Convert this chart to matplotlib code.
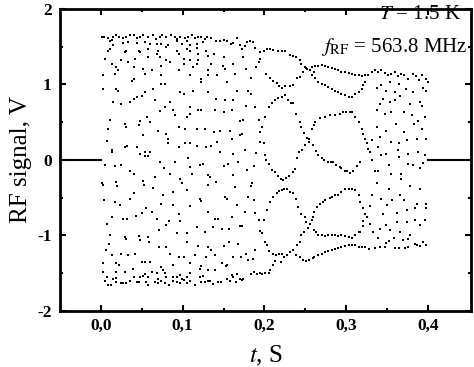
import matplotlib
matplotlib.use("Agg")
import matplotlib.pyplot as plt

plt.rcParams['font.family'] = ['Liberation Serif', 'DejaVu Serif']
plt.rcParams['mathtext.fontset'] = 'stix'

# (t [s], RF signal [V])
# t = 0 ... 0.13, upper half
early_upper = [
    (0.001, 1.63), (0.004, 1.63), (0.009, 1.62), (0.013, 1.59), (0.015, 1.63), (0.019, 1.65),
    (0.022, 1.63), (0.027, 1.62), (0.031, 1.63), (0.035, 1.66), (0.040, 1.65), (0.044, 1.62),
    (0.048, 1.63), (0.052, 1.65), (0.058, 1.63), (0.064, 1.65), (0.067, 1.60), (0.072, 1.63),
    (0.075, 1.65), (0.080, 1.63), (0.086, 1.65), (0.091, 1.63), (0.093, 1.60), (0.097, 1.63),
    (0.103, 1.62), (0.107, 1.63), (0.111, 1.66), (0.115, 1.62), (0.119, 1.63), (0.123, 1.63),
    (0.127, 1.60), (0.130, 1.63),
    (0.011, 1.58), (0.015, 1.52), (0.027, 1.55), (0.033, 1.56), (0.044, 1.55), (0.054, 1.56),
    (0.060, 1.54), (0.068, 1.53), (0.074, 1.54), (0.082, 1.52), (0.093, 1.57), (0.099, 1.54),
    (0.105, 1.57), (0.109, 1.52), (0.117, 1.54), (0.125, 1.56),
    (0.009, 1.44), (0.011, 1.47), (0.029, 1.43), (0.031, 1.45), (0.046, 1.45), (0.048, 1.43),
    (0.058, 1.47), (0.068, 1.41), (0.070, 1.45), (0.080, 1.50), (0.093, 1.44), (0.095, 1.41),
    (0.105, 1.47), (0.109, 1.45), (0.117, 1.48), (0.119, 1.41), (0.129, 1.45),
    (0.005, 1.34), (0.025, 1.32), (0.033, 1.30), (0.042, 1.34), (0.058, 1.36), (0.072, 1.36),
    (0.080, 1.32), (0.084, 1.30), (0.101, 1.34), (0.109, 1.33), (0.119, 1.32), (0.131, 1.38),
    (0.013, 1.27), (0.019, 1.23), (0.021, 1.19), (0.040, 1.23), (0.052, 1.21), (0.062, 1.19),
    (0.074, 1.25), (0.095, 1.19), (0.101, 1.27), (0.113, 1.23), (0.117, 1.27), (0.131, 1.19),
    (0.003, 1.12), (0.017, 1.14), (0.038, 1.05), (0.040, 1.07), (0.054, 1.14), (0.074, 1.12),
    (0.109, 1.13), (0.123, 1.07), (0.123, 1.03), (0.131, 1.12),
    (0.003, 0.94), (0.019, 0.94), (0.021, 0.92), (0.050, 0.85), (0.054, 0.90), (0.064, 0.94),
    (0.074, 1.01), (0.078, 1.01), (0.097, 0.90), (0.101, 0.88), (0.113, 0.92), (0.131, 0.90),
    (0.015, 0.77), (0.025, 0.74), (0.035, 0.77), (0.040, 0.81), (0.044, 0.83), (0.066, 0.79),
    (0.078, 0.70), (0.084, 0.77), (0.072, 0.65), (0.088, 0.66), (0.109, 0.70), (0.119, 0.66),
    (0.123, 0.66),
    (0.011, 0.53), (0.029, 0.48), (0.031, 0.44), (0.048, 0.52), (0.046, 0.46), (0.056, 0.57),
    (0.060, 0.50), (0.091, 0.59), (0.105, 0.57), (0.109, 0.61), (0.009, 0.41),
    (0.070, 0.39), (0.080, 0.35), (0.082, 0.28), (0.095, 0.44), (0.103, 0.41), (0.117, 0.41),
    (0.127, 0.41), (0.052, 0.33),
    (0.007, 0.25), (0.013, 0.13), (0.029, 0.17), (0.032, 0.18), (0.044, 0.17), (0.048, 0.08),
    (0.054, 0.11), (0.060, 0.11), (0.082, 0.22), (0.095, 0.17), (0.103, 0.22), (0.109, 0.22),
    (0.117, 0.18), (0.129, 0.17), (0.058, 0.05), (0.107, 0.03),
]

# t = 0 ... 0.13, lower half
early_lower = [
    (0.013, 0.11), (0.048, 0.08), (0.054, 0.05), (0.060, 0.11), (0.107, 0.02),
    (0.005, -0.06), (0.017, -0.08), (0.024, -0.06), (0.035, -0.14), (0.040, -0.19), (0.072, -0.03),
    (0.077, -0.11), (0.091, -0.03), (0.109, -0.09), (0.121, -0.07), (0.125, -0.05),
    (0.001, -0.31), (0.002, -0.33), (0.019, -0.29), (0.020, -0.35), (0.052, -0.28), (0.053, -0.33),
    (0.064, -0.37), (0.066, -0.22), (0.085, -0.19), (0.097, -0.25), (0.099, -0.31), (0.111, -0.19),
    (0.131, -0.20),
    (0.040, -0.44), (0.036, -0.51), (0.076, -0.47), (0.088, -0.42), (0.105, -0.40), (0.131, -0.33),
    (0.004, -0.53), (0.017, -0.56), (0.023, -0.60), (0.074, -0.58), (0.088, -0.60), (0.109, -0.61),
    (0.121, -0.51), (0.123, -0.54), (0.131, -0.69), (0.062, -0.69), (0.055, -0.64), (0.050, -0.70),
    (0.043, -0.74), (0.095, -0.72),
    (0.013, -0.75), (0.007, -0.85), (0.027, -0.78), (0.032, -0.78), (0.068, -0.78), (0.083, -0.81),
    (0.080, -0.86), (0.117, -0.89), (0.127, -0.95), (0.097, -0.81), (0.105, -0.97),
    (0.011, -0.99), (0.029, -1.02), (0.031, -1.04), (0.046, -1.01), (0.048, -1.06), (0.058, -1.02),
    (0.059, -1.08), (0.071, -0.93), (0.093, -0.97), (0.105, -1.08), (0.119, -1.14),
    (0.006, -1.19), (0.014, -1.26), (0.025, -1.24), (0.033, -1.26), (0.042, -1.25), (0.010, -1.11),
    (0.071, -1.15), (0.084, -1.25), (0.080, -1.15), (0.096, -1.29), (0.101, -1.28), (0.115, -1.26),
    (0.129, -1.29), (0.131, -1.15),
    (0.002, -1.36), (0.018, -1.37), (0.022, -1.39), (0.050, -1.35), (0.054, -1.35), (0.060, -1.35),
    (0.039, -1.45), (0.074, -1.42), (0.076, -1.46), (0.088, -1.39), (0.109, -1.36), (0.121, -1.44),
    (0.123, -1.41),
    (0.003, -1.49), (0.019, -1.49), (0.029, -1.48), (0.052, -1.54), (0.054, -1.51), (0.063, -1.49),
    (0.068, -1.50), (0.078, -1.50), (0.097, -1.52), (0.109, -1.50), (0.131, -1.46),
    (0.007, -1.55), (0.015, -1.57), (0.018, -1.56), (0.040, -1.55), (0.048, -1.55), (0.058, -1.55),
    (0.070, -1.57), (0.080, -1.55), (0.088, -1.55), (0.093, -1.55), (0.099, -1.57), (0.105, -1.55),
    (0.121, -1.55), (0.125, -1.54),
    (0.005, -1.60), (0.009, -1.65), (0.012, -1.65), (0.019, -1.61), (0.024, -1.63), (0.027, -1.63),
    (0.031, -1.63), (0.035, -1.60), (0.044, -1.61), (0.047, -1.61), (0.055, -1.61), (0.058, -1.65),
    (0.066, -1.61), (0.070, -1.63), (0.074, -1.60), (0.078, -1.63), (0.083, -1.65), (0.088, -1.60),
    (0.093, -1.61), (0.097, -1.63), (0.101, -1.59), (0.105, -1.63), (0.109, -1.60), (0.115, -1.66),
    (0.123, -1.61), (0.127, -1.61), (0.131, -1.60),
]

# t = 0.13 ... 0.2
middle = [
    (0.135, 1.62), (0.141, 1.58), (0.146, 1.57), (0.151, 1.59), (0.154, 1.58), (0.159, 1.53),
    (0.162, 1.55), (0.166, 1.62), (0.170, 1.52), (0.138, 1.41), (0.150, 1.36), (0.149, 1.25),
    (0.135, 1.27), (0.162, 1.27), (0.152, 1.21), (0.142, 1.12), (0.164, 1.14), (0.154, 1.03),
    (0.166, 0.92), (0.141, 0.81), (0.152, 0.79), (0.162, 0.79), (0.140, 0.66), (0.150, 0.63),
    (0.160, 0.66), (0.170, 0.52), (0.138, 0.37), (0.146, 0.39), (0.158, 0.39), (0.170, 0.33),
    (0.142, 0.24), (0.160, 0.28), (0.135, 0.19), (0.146, 0.11), (0.162, 0.08),
    (0.133, -0.22), (0.141, -0.29), (0.150, -0.08), (0.156, -0.05), (0.162, -0.20), (0.168, -0.03),
    (0.164, -0.36), (0.152, -0.49), (0.154, -0.52), (0.166, -0.59), (0.140, -0.78), (0.143, -0.78),
    (0.160, -0.75), (0.170, -0.87), (0.137, -0.89), (0.148, -0.92), (0.157, -0.91), (0.150, -1.14),
    (0.157, -1.08), (0.168, -1.11), (0.135, -1.19), (0.140, -1.26), (0.148, -1.37), (0.154, -1.39),
    (0.162, -1.28), (0.171, -1.28), (0.140, -1.46), (0.153, -1.41), (0.160, -1.52), (0.166, -1.51),
    (0.137, -1.64), (0.147, -1.61), (0.154, -1.57), (0.162, -1.55), (0.134, -1.60), (0.143, -1.62),
    (0.158, -1.60), (0.165, -1.62), (0.170, -1.58),
    (0.172, 1.47), (0.176, 1.51), (0.179, 1.56), (0.182, 1.57), (0.186, 1.56), (0.188, 1.48),
    (0.174, 1.36), (0.177, 1.21), (0.184, 1.08), (0.180, 0.92), (0.184, 0.88), (0.178, 0.72),
    (0.188, 0.70), (0.193, 0.53), (0.174, 0.53), (0.172, 0.35), (0.197, 0.44), (0.195, 0.37),
    (0.195, 0.24), (0.199, 0.22), (0.176, 0.13), (0.190, 0.09), (0.201, 0.06), (0.194, 1.34),
    (0.193, 1.30), (0.190, 1.23),
    (0.187, -0.08), (0.179, -0.13), (0.185, -0.31), (0.183, -0.34), (0.180, -0.49), (0.187, -0.53),
    (0.176, -0.69), (0.188, -0.70), (0.193, -0.80), (0.199, -0.80), (0.172, -0.88), (0.195, -0.94),
    (0.197, -0.97), (0.201, -1.09), (0.203, -1.13), (0.178, -1.24), (0.188, -1.19), (0.180, -1.32),
    (0.186, -1.31), (0.187, -1.48), (0.184, -1.51), (0.174, -1.57), (0.172, -1.59), (0.191, -1.51),
    (0.194, -1.50), (0.197, -1.51), (0.201, -1.50), (0.205, -1.50), (0.207, -1.46), (0.210, -1.39),
    (0.213, -1.34), (0.220, -1.35),
]

# t = 0.2 ... 0.33, the branches
branches = [
    (0.195, 1.43), (0.199, 1.45), (0.203, 1.47), (0.207, 1.47), (0.211, 1.46), (0.216, 1.45),
    (0.221, 1.45), (0.225, 1.45), (0.231, 1.39), (0.235, 1.38), (0.239, 1.36), (0.243, 1.33),
    (0.245, 1.27), (0.250, 1.23), (0.252, 1.21), (0.256, 1.19), (0.260, 1.16),
    (0.202, 1.14), (0.207, 1.08), (0.211, 1.04), (0.215, 1.02), (0.218, 0.98), (0.222, 0.95),
    (0.225, 0.98), (0.231, 0.98), (0.235, 0.99), (0.240, 1.08), (0.243, 1.10), (0.247, 1.16),
    (0.251, 1.22),
    (0.201, 0.57), (0.205, 0.70), (0.209, 0.76), (0.213, 0.80), (0.217, 0.82), (0.221, 0.83),
    (0.225, 0.86), (0.229, 0.80), (0.233, 0.76), (0.235, 0.75), (0.239, 0.61), (0.243, 0.50),
    (0.245, 0.44), (0.248, 0.36), (0.252, 0.29), (0.255, 0.28), (0.259, 0.20), (0.263, 0.12),
    (0.266, 0.07),
    (0.242, 0.11), (0.246, 0.13), (0.250, 0.20), (0.254, 0.24), (0.258, 0.41), (0.260, 0.46),
    (0.202, 0.00), (0.206, -0.05), (0.209, -0.13), (0.213, -0.16), (0.217, -0.21), (0.220, -0.25),
    (0.223, -0.27), (0.226, -0.24), (0.230, -0.21), (0.235, -0.16), (0.237, -0.12), (0.240, 0.03),
    (0.203, -0.66), (0.207, -0.55), (0.211, -0.49), (0.215, -0.44), (0.218, -0.41), (0.221, -0.40),
    (0.224, -0.38), (0.228, -0.38), (0.231, -0.43), (0.235, -0.44), (0.238, -0.52), (0.241, -0.62),
    (0.245, -0.71), (0.249, -0.75), (0.251, -0.82), (0.256, -0.85), (0.258, -0.80), (0.253, -0.90),
    (0.248, -0.95), (0.245, -1.00), (0.243, -1.08), (0.240, -1.13),
    (0.206, -1.21), (0.210, -1.24), (0.214, -1.26), (0.218, -1.24), (0.221, -1.25), (0.224, -1.29),
    (0.228, -1.26), (0.231, -1.22), (0.235, -1.19), (0.239, -1.26), (0.243, -1.29), (0.247, -1.32),
    (0.251, -1.34), (0.255, -1.33), (0.259, -1.30),
    (0.258, 1.23), (0.262, 1.25), (0.266, 1.24), (0.270, 1.26), (0.274, 1.25), (0.278, 1.23),
    (0.282, 1.22), (0.286, 1.20), (0.290, 1.19), (0.294, 1.17), (0.298, 1.16), (0.303, 1.15),
    (0.307, 1.14), (0.311, 1.13), (0.315, 1.12), (0.319, 1.11), (0.323, 1.12), (0.327, 1.13),
    (0.331, 1.16),
    (0.258, 1.12), (0.262, 1.08), (0.266, 1.03), (0.270, 1.01), (0.274, 0.99), (0.278, 0.97),
    (0.282, 0.94), (0.286, 0.92), (0.290, 0.90), (0.294, 0.88), (0.298, 0.86), (0.303, 0.84),
    (0.307, 0.84), (0.311, 0.88), (0.315, 0.90), (0.319, 0.94), (0.321, 0.99), (0.323, 1.03),
    (0.262, 0.50), (0.268, 0.55), (0.274, 0.57), (0.280, 0.59), (0.286, 0.60), (0.292, 0.61),
    (0.296, 0.63), (0.300, 0.64), (0.304, 0.64), (0.307, 0.63), (0.311, 0.57), (0.315, 0.50),
    (0.319, 0.41), (0.321, 0.35), (0.323, 0.28), (0.325, 0.22), (0.326, 0.15),
    (0.270, 0.03), (0.273, 0.00), (0.278, -0.03), (0.281, -0.03), (0.284, -0.03), (0.288, -0.06),
    (0.292, -0.09), (0.294, -0.11), (0.298, -0.14), (0.301, -0.14), (0.305, -0.17), (0.308, -0.14),
    (0.313, -0.08), (0.317, -0.03),
    (0.259, -0.75), (0.261, -0.69), (0.264, -0.62), (0.268, -0.58), (0.271, -0.55), (0.274, -0.53),
    (0.280, -0.50), (0.282, -0.49), (0.286, -0.47), (0.290, -0.46), (0.294, -0.42), (0.298, -0.38),
    (0.303, -0.38), (0.307, -0.38), (0.311, -0.40), (0.315, -0.47), (0.317, -0.55), (0.320, -0.64),
    (0.323, -0.72), (0.325, -0.75),
    (0.260, -0.93), (0.263, -0.96), (0.266, -0.99), (0.270, -1.00), (0.274, -1.01), (0.278, -0.99),
    (0.282, -1.00), (0.286, -1.00), (0.290, -1.01), (0.294, -1.00), (0.298, -1.01), (0.303, -1.02),
    (0.307, -1.03), (0.311, -1.00), (0.315, -0.96), (0.317, -0.96), (0.320, -0.88), (0.321, -0.81),
    (0.260, -1.28), (0.265, -1.26), (0.270, -1.24), (0.274, -1.22), (0.278, -1.21), (0.282, -1.19),
    (0.286, -1.18), (0.290, -1.16), (0.294, -1.15), (0.298, -1.14), (0.303, -1.12), (0.307, -1.12),
    (0.311, -1.13), (0.315, -1.15), (0.319, -1.15), (0.323, -1.15), (0.328, -1.18),
    (0.331, 0.00), (0.329, -0.61), (0.329, -0.85), (0.333, -0.95),
]

# t = 0.33 ... 0.4
late = [
    (0.335, 1.19), (0.339, 1.16), (0.343, 1.19), (0.347, 1.15), (0.351, 1.12), (0.355, 1.14),
    (0.359, 1.16), (0.363, 1.11), (0.367, 1.14), (0.371, 1.12), (0.376, 1.07), (0.381, 1.14),
    (0.385, 1.11), (0.389, 1.06), (0.393, 1.12), (0.397, 1.07), (0.400, 1.03),
    (0.337, 0.96), (0.343, 0.99), (0.349, 0.92), (0.353, 1.03), (0.359, 0.90), (0.365, 1.01),
    (0.373, 0.94), (0.381, 0.90), (0.394, 0.96), (0.398, 0.92),
    (0.341, 0.74), (0.345, 0.81), (0.353, 0.77), (0.359, 0.79), (0.366, 0.85), (0.378, 0.74),
    (0.390, 0.77), (0.392, 0.71),
    (0.337, 0.66), (0.347, 0.61), (0.355, 0.63), (0.370, 0.63), (0.380, 0.59), (0.388, 0.52),
    (0.396, 0.57),
    (0.337, 0.44), (0.349, 0.39), (0.361, 0.48), (0.371, 0.37), (0.383, 0.48), (0.392, 0.41),
    (0.331, 0.26), (0.341, 0.30), (0.355, 0.24), (0.365, 0.22), (0.374, 0.26), (0.387, 0.28),
    (0.398, 0.28),
    (0.329, 0.11), (0.339, 0.17), (0.349, 0.08), (0.363, 0.13), (0.375, 0.08), (0.388, 0.11),
    (0.396, 0.06),
    (0.343, 0.06), (0.364, 0.04), (0.352, -0.07), (0.375, -0.05), (0.382, -0.06), (0.390, -0.11),
    (0.394, -0.04),
    (0.335, -0.15), (0.339, -0.14), (0.355, -0.18), (0.367, -0.18), (0.367, -0.25), (0.337, -0.31),
    (0.352, -0.39), (0.378, -0.35), (0.390, -0.38),
    (0.331, -0.47), (0.343, -0.51), (0.366, -0.47), (0.356, -0.53), (0.370, -0.53), (0.350, -0.59),
    (0.386, -0.58), (0.398, -0.58), (0.362, -0.70), (0.374, -0.66), (0.384, -0.63), (0.397, -0.63),
    (0.345, -0.71),
    (0.341, -0.91), (0.354, -0.93), (0.366, -0.95), (0.378, -1.00), (0.384, -0.80), (0.390, -0.86),
    (0.396, -0.80), (0.349, -0.86), (0.362, -0.82), (0.374, -0.82),
    (0.339, -1.03), (0.348, -1.10), (0.352, -1.07), (0.358, -1.03), (0.369, -1.06), (0.376, -1.04),
    (0.384, -1.11), (0.394, -1.08), (0.398, -1.13),
    (0.335, -1.16), (0.341, -1.15), (0.347, -1.15), (0.360, -1.16), (0.364, -1.16), (0.372, -1.17),
    (0.376, -1.15), (0.386, -1.13), (0.390, -1.14),
]

# flat signal before and after the sweep
zero_left_t = [-0.05, 0.0]
zero_right_t = [0.4, 0.4525]
zero_v = [0.0, 0.0]

x_ticks = [0.0, 0.1, 0.2, 0.3, 0.4]
x_tick_labels = ['0,0', '0,1', '0,2', '0,3', '0,4']
y_ticks = [-2, -1, 0, 1, 2]
y_tick_labels = ['-2', '-1', '0', '1', '2']

fig = plt.figure(figsize=(4.74, 3.67), dpi=100)
ax = fig.add_axes([60 / 474, 1 - 311 / 367, 411 / 474, 302 / 367])

for group in (early_upper, early_lower, middle, branches, late):
    t, v = zip(*group)
    ax.plot(t, v, linestyle='none', marker='s', markersize=1.9,
            markeredgewidth=0, color='black')

ax.plot(zero_left_t, zero_v, color='black', lw=1.5)
ax.plot(zero_right_t, zero_v, color='black', lw=1.5)

ax.set_xlim(-0.05, 0.4525)
ax.set_ylim(-2, 2)
ax.set_xticks(x_ticks)
ax.set_xticklabels(x_tick_labels, fontweight='bold', fontsize=12.5)
ax.set_yticks(y_ticks)
ax.set_yticklabels(y_tick_labels, fontweight='bold', fontsize=12.5)
ax.set_xticks([0.05, 0.15, 0.25, 0.35], minor=True)
ax.set_yticks([-1.5, -0.5, 0.5, 1.5], minor=True)
ax.tick_params(which='both', direction='in', top=True, right=True, width=1.5)
ax.tick_params(which='major', length=4)
ax.tick_params(which='minor', length=2.5)
ax.tick_params(axis='x', pad=5)
ax.tick_params(axis='y', pad=6)
for s in ax.spines.values():
    s.set_linewidth(2)

ax.set_xlabel('$t$, S', fontsize=18)
ax.set_ylabel('RF signal, V', fontsize=18)
ax.xaxis.set_label_coords(0.5, -0.11)
ax.yaxis.set_label_coords(-0.068, 0.5)

ax.text(0.775, 0.967, '$T$ = 1.5 K', transform=ax.transAxes, fontsize=15, va='baseline')
ax.text(0.635, 0.858, r'$f_{\mathrm{RF}}$ = 563.8 MHz', transform=ax.transAxes,
        fontsize=15, va='baseline')

fig.savefig('out.png', dpi=100)
